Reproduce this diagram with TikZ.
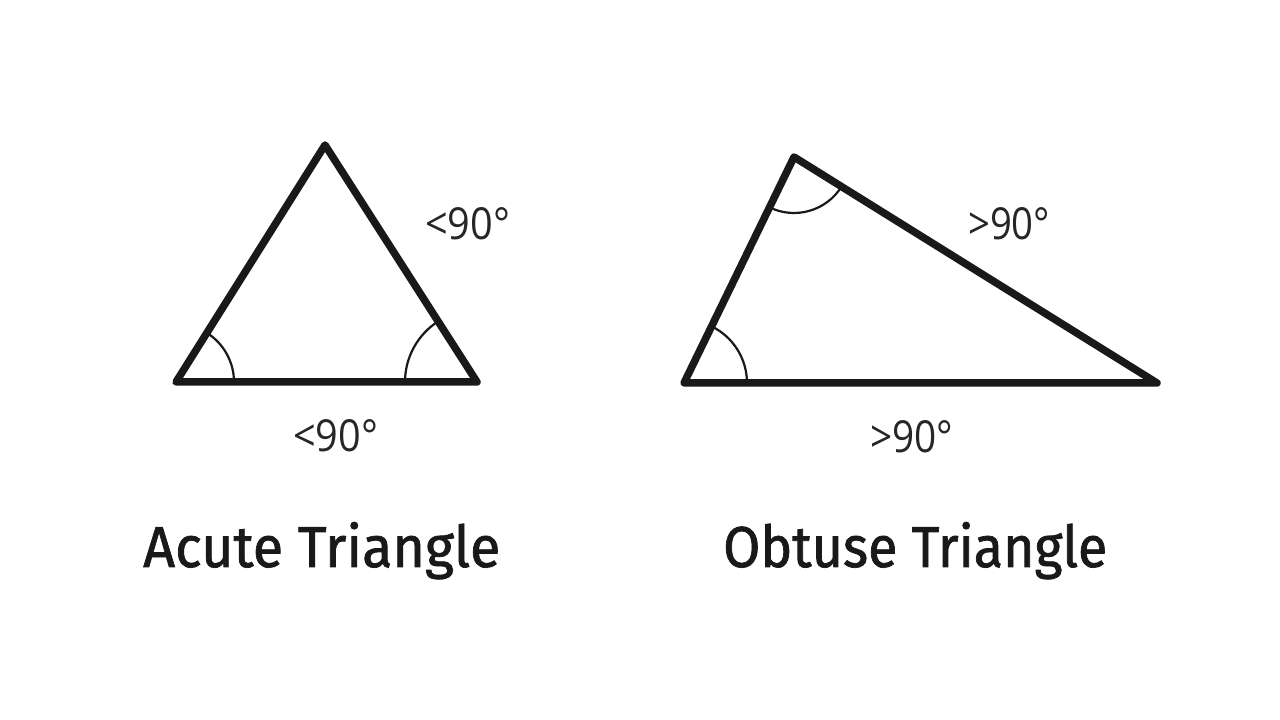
\documentclass[tikz,border=0pt]{standalone}
\usepackage{fontspec}
\setmainfont{Open Sans}
\newfontfamily\titlefont[FakeBold=1.3]{Fira Sans}
\usetikzlibrary{calc}
\begin{document}
\begin{tikzpicture}[x=1pt,y=1pt,
  side/.style={line width=7.5pt, line join=round, line cap=round, black!90},
  anglearc/.style={line width=2.2pt, black!90},
  lbl/.style={inner sep=0pt, anchor=base west, text=black!85},
  ttl/.style={inner sep=0pt, anchor=base west, text=black!90}]
\useasboundingbox[fill=white] (0,0) rectangle (1280,720);
% acute triangle
\coordinate (A1) at (176,338);
\coordinate (A2) at (325,575);
\coordinate (A3) at (477,338);
\draw[side] (A1) -- (A2) -- (A3) -- cycle;
\draw[anglearc] (A1) ++(58pt,0) arc[start angle=0, end angle=57.8, radius=58pt];
\draw[anglearc] (A3) ++(-72pt,0) arc[start angle=180, end angle=122.7, radius=72pt];
% obtuse triangle
\coordinate (O1) at (684,337);
\coordinate (O2) at (794,563);
\coordinate (O3) at (1157,337);
\draw[side] (O1) -- (O2) -- (O3) -- cycle;
\draw[anglearc] (O1) ++(63pt,0) arc[start angle=0, end angle=64, radius=63pt];
\draw[anglearc] (O2) ++(244:56pt) arc[start angle=244, end angle=328.1, radius=56pt];
% labels
\node[lbl] (la1) at (425,480) {\resizebox{85pt}{32pt}{<90°}};
\node[lbl] (la2) at (293,268) {\resizebox{85pt}{32pt}{<90°}};
\node[lbl] (lo1) at (968,480) {\resizebox{82pt}{32pt}{>90°}};
\node[lbl] (lo2) at (870,267) {\resizebox{83pt}{32pt}{>90°}};
% titles
\node[ttl] (ta) at (143,153) {\resizebox{357pt}{45pt}{\titlefont Acute Triangle}};
\node[ttl] (to) at (723,153) {\resizebox{384pt}{45pt}{\titlefont Obtuse Triangle}};
\end{tikzpicture}
\end{document}
